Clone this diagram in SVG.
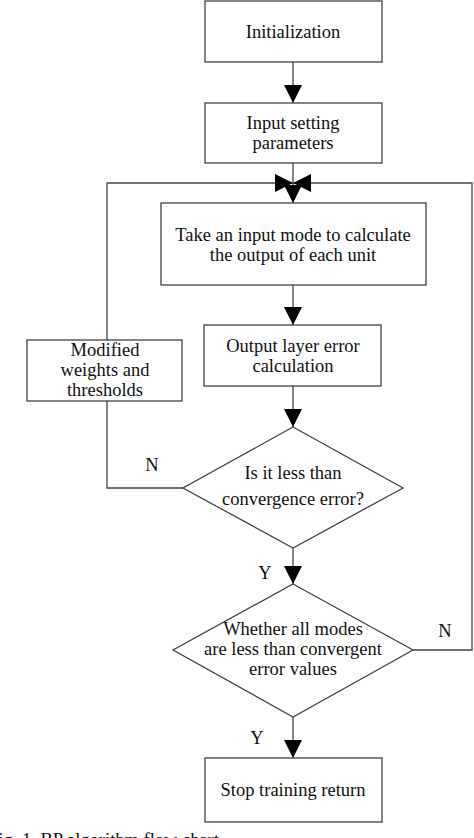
<svg xmlns="http://www.w3.org/2000/svg" width="474" height="838" viewBox="0 0 474 838">
<style>
.box{fill:#fff;stroke:#444;stroke-width:1.3}
.ln{fill:none;stroke:#444;stroke-width:1.3}
.t{font-family:'Liberation Serif','Times New Roman',Times,serif;font-size:18.5px;fill:#111;text-anchor:middle}
</style>
<defs>
<marker id="ah" markerUnits="userSpaceOnUse" markerWidth="18" markerHeight="18" viewBox="0 0 16 16" refX="16" refY="8" orient="auto">
<path d="M0,0 L16,8 L0,16 Z" fill="#000"/>
</marker>
</defs>
<rect width="474" height="838" fill="#fff"/>
<g id="connectors">
<line class="ln" x1="293" y1="62" x2="293" y2="103" marker-end="url(#ah)"/>
<line class="ln" x1="293" y1="163" x2="293" y2="203" marker-end="url(#ah)"/>
<polyline class="ln" points="183,488 107,488 107,401"/>
<polyline class="ln" points="107,340 107,183 293,183" marker-end="url(#ah)"/>
<polyline class="ln" points="413,650 472,650 472,183 293,183" marker-end="url(#ah)"/>
<line class="ln" x1="293" y1="285" x2="293" y2="325" marker-end="url(#ah)"/>
<line class="ln" x1="293" y1="386" x2="293" y2="427" marker-end="url(#ah)"/>
<line class="ln" x1="293" y1="548" x2="293" y2="584" marker-end="url(#ah)"/>
<line class="ln" x1="293" y1="717" x2="293" y2="758" marker-end="url(#ah)"/>
<text class="t" x="152" y="471">N</text>
<text class="t" x="265" y="579">Y</text>
<text class="t" x="445" y="637">N</text>
<text class="t" x="257" y="744">Y</text>
</g>
<g id="init">
<rect class="box" x="205" y="1" width="177" height="61"/>
<text class="t" x="293" y="38">Initialization</text>
</g>
<g id="input">
<rect class="box" x="205" y="103" width="177" height="60"/>
<text class="t" x="293" y="129">Input setting</text>
<text class="t" x="293" y="149">parameters</text>
</g>
<g id="take">
<rect class="box" x="161" y="203" width="265" height="82"/>
<text class="t" x="293" y="241">Take an input mode to calculate</text>
<text class="t" x="293" y="261">the output of each unit</text>
</g>
<g id="outerr">
<rect class="box" x="204" y="325" width="177" height="61"/>
<text class="t" x="293" y="352">Output layer error</text>
<text class="t" x="293" y="372">calculation</text>
</g>
<g id="modified">
<rect class="box" x="27" y="340" width="155" height="61"/>
<text class="t" x="105" y="356">Modified</text>
<text class="t" x="105" y="376">weights and</text>
<text class="t" x="105" y="396">thresholds</text>
</g>
<g id="dec1">
<polygon class="box" points="293,427 403,488 293,548 183,488"/>
<text class="t" x="293" y="479">Is it less than</text>
<text class="t" x="293" y="505">convergence error?</text>
</g>
<g id="dec2">
<polygon class="box" points="293,584 413,650 293,717 173,650"/>
<text class="t" x="293" y="635">Whether all modes</text>
<text class="t" x="293" y="655">are less than convergent</text>
<text class="t" x="293" y="675">error values</text>
</g>
<g id="stop">
<rect class="box" x="205" y="758" width="177" height="64"/>
<text class="t" x="293" y="796">Stop training return</text>
</g>
<text class="t" x="-12" y="846" style="text-anchor:start">Fig. 1. BP algorithm flow chart</text>
</svg>
